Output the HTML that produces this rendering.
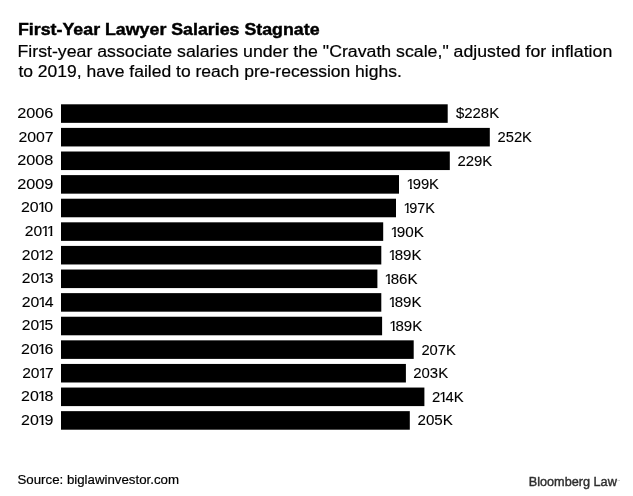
<!DOCTYPE html>
<html><head><meta charset="utf-8">
<title>First-Year Lawyer Salaries Stagnate</title>
<style>
html,body{margin:0;padding:0;background:#fff;}
body{width:633px;height:496px;position:relative;overflow:hidden;font-family:"Liberation Sans",sans-serif;color:#000;}
.t{position:absolute;white-space:nowrap;line-height:20px;transform-origin:0 50%;}
#title{font-weight:bold;-webkit-text-stroke:0.45px #000;}
#sub1,#sub2,#src{-webkit-text-stroke:0.2px #000;}
svg{position:absolute;left:0;top:0;}
.l{position:absolute;white-space:nowrap;-webkit-text-stroke:0.1px #000;font-size:14px;line-height:16px;height:16px;transform-origin:0 50%;}
.l i{font-style:normal;display:inline-block;margin:0 -2.05px 0 -0.9px;clip-path:polygon(0 0,8px 0,8px 11px,5.1px 11px,5.1px 16px,3.2px 16px,3.2px 11px,0 11px);}
#tm{position:absolute;left:617.2px;top:480px;font-size:3px;line-height:3px;color:#808080;}
#logo{color:#2e2e2e;-webkit-text-stroke:0.4px #2e2e2e;}
</style></head><body>
<div class="t" id="title" style="left:17px;top:19px;font-size:17.3px;transform:translateX(1.00px) scaleX(1.0293)">First-Year Lawyer Salaries Stagnate</div>
<div class="t" id="sub1" style="left:17px;top:41px;font-size:17.3px;transform:translateX(0.50px) scaleX(1.0255)">First-year associate salaries under the "Cravath scale," adjusted for inflation</div>
<div class="t" id="sub2" style="left:18px;top:61px;font-size:17.3px;transform:translateX(0.38px) scaleX(1.0131)">to 2019, have failed to reach pre-recession highs.</div>
<div class="t" id="src" style="left:17px;top:470px;font-size:13.3px;transform:translateX(0.50px) scaleX(0.9978)">Source: biglawinvestor.com</div>
<div class="t" id="logo" style="left:528px;top:472px;font-size:12.5px;transform:translateX(0.67px) scaleX(1.0149)">Bloomberg Law</div>
<div id="tm">™</div>
<svg width="633" height="496" viewBox="0 0 633 496">
<rect x="61.0" y="104.30" width="386.70" height="18.55" fill="#000"/>
<rect x="61.0" y="127.90" width="428.80" height="18.55" fill="#000"/>
<rect x="61.0" y="151.51" width="388.80" height="18.55" fill="#000"/>
<rect x="61.0" y="175.11" width="338.00" height="18.55" fill="#000"/>
<rect x="61.0" y="198.72" width="335.00" height="18.55" fill="#000"/>
<rect x="61.0" y="222.32" width="322.20" height="18.55" fill="#000"/>
<rect x="61.0" y="245.92" width="320.30" height="18.55" fill="#000"/>
<rect x="61.0" y="269.53" width="316.40" height="18.55" fill="#000"/>
<rect x="61.0" y="293.13" width="320.30" height="18.55" fill="#000"/>
<rect x="61.0" y="316.74" width="321.10" height="18.55" fill="#000"/>
<rect x="61.0" y="340.34" width="352.70" height="18.55" fill="#000"/>
<rect x="61.0" y="363.94" width="344.90" height="18.55" fill="#000"/>
<rect x="61.0" y="387.55" width="363.40" height="18.55" fill="#000"/>
<rect x="61.0" y="411.15" width="348.80" height="18.55" fill="#000"/>
</svg>
<div class="l" id="y0" style="left:17px;top:105px;transform:translateX(0.15px) scaleX(1.1591)">2006</div><div class="l" id="v0" style="left:455px;top:105px;transform:translateX(0.88px) scaleX(1.0692)">$228K</div>
<div class="l" id="y1" style="left:18px;top:129px;transform:translateX(0.38px) scaleX(1.1325)">2007</div><div class="l" id="v1" style="left:497px;top:129px;transform:translateX(0.48px) scaleX(1.0531)">252K</div>
<div class="l" id="y2" style="left:17px;top:152px;transform:translateX(0.15px) scaleX(1.1591)">2008</div><div class="l" id="v2" style="left:457px;top:153px;transform:translateX(0.47px) scaleX(1.0651)">229K</div>
<div class="l" id="y3" style="left:17px;top:176px;transform:translateX(0.15px) scaleX(1.1589)">2009</div><div class="l" id="v3" style="left:407px;top:176px;transform:translateX(0.51px) scaleX(1.0576)"><i>1</i>99K</div>
<div class="l" id="y4" style="left:20px;top:199px;transform:translateX(0.96px) scaleX(1.1389)">20<i>1</i>0</div><div class="l" id="v4" style="left:404px;top:200px;transform:translateX(0.31px) scaleX(1.0309)"><i>1</i>97K</div>
<div class="l" id="y5" style="left:24px;top:223px;transform:translateX(0.81px) scaleX(1.1169)">20<i>1</i><i>1</i></div><div class="l" id="v5" style="left:391px;top:224px;transform:translateX(0.41px) scaleX(1.0886)"><i>1</i>90K</div>
<div class="l" id="y6" style="left:21px;top:247px;transform:translateX(0.78px) scaleX(1.1190)">20<i>1</i>2</div><div class="l" id="v6" style="left:389px;top:247px;transform:translateX(0.41px) scaleX(1.0752)"><i>1</i>89K</div>
<div class="l" id="y7" style="left:21px;top:270px;transform:translateX(0.77px) scaleX(1.1195)">20<i>1</i>3</div><div class="l" id="v7" style="left:385px;top:271px;transform:translateX(0.41px) scaleX(1.0752)"><i>1</i>86K</div>
<div class="l" id="y8" style="left:21px;top:294px;transform:translateX(0.77px) scaleX(1.1293)">20<i>1</i>4</div><div class="l" id="v8" style="left:389px;top:294px;transform:translateX(0.41px) scaleX(1.0752)"><i>1</i>89K</div>
<div class="l" id="y9" style="left:21px;top:317px;transform:translateX(0.79px) scaleX(1.1141)">20<i>1</i>5</div><div class="l" id="v9" style="left:390px;top:318px;transform:translateX(0.21px) scaleX(1.0752)"><i>1</i>89K</div>
<div class="l" id="y10" style="left:21px;top:341px;transform:translateX(0.12px) scaleX(1.1387)">20<i>1</i>6</div><div class="l" id="v10" style="left:421px;top:342px;transform:translateX(0.38px) scaleX(1.0527)">207K</div>
<div class="l" id="y11" style="left:22px;top:365px;transform:translateX(0.18px) scaleX(1.1143)">20<i>1</i>7</div><div class="l" id="v11" style="left:413px;top:365px;transform:translateX(0.27px) scaleX(1.0651)">203K</div>
<div class="l" id="y12" style="left:21px;top:388px;transform:translateX(0.12px) scaleX(1.1387)">20<i>1</i>8</div><div class="l" id="v12" style="left:431px;top:389px;transform:translateX(0.97px) scaleX(1.0617)">2<i>1</i>4K</div>
<div class="l" id="y13" style="left:21px;top:412px;transform:translateX(0.12px) scaleX(1.1387)">20<i>1</i>9</div><div class="l" id="v13" style="left:417px;top:412px;transform:translateX(0.47px) scaleX(1.0812)">205K</div>
</body></html>
